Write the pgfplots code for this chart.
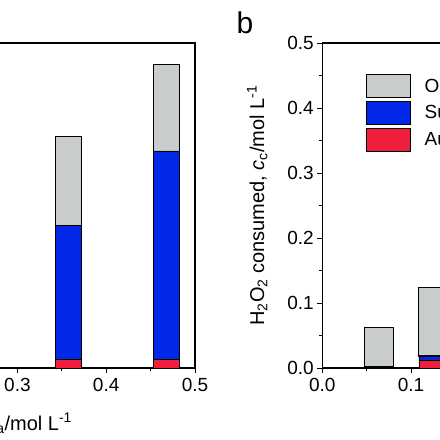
\documentclass[border=0pt]{standalone}
\usepackage{pgfplots}
\pgfplotsset{compat=1.18}
\usepackage{fontspec}
\setmainfont{Liberation Sans}
\definecolor{cgray}{RGB}{200,204,202}
\definecolor{cblue}{RGB}{0,40,230}
\definecolor{cred}{RGB}{240,30,60}
\pgfplotsset{
  panel/.style={
    scale only axis, width=444pt, height=325pt, anchor=south west,
    xmin=0, xmax=0.5, ymin=0, ymax=0.5,
    xtick={0,0.1,0.2,0.3,0.4,0.5}, ytick={0,0.1,0.2,0.3,0.4,0.5},
    minor x tick num=1, minor y tick num=1,
    tick align=outside, xtick pos=left, ytick pos=left,
    major tick length=5pt, minor tick length=3pt,
    every tick/.style={black, line width=0.9pt},
    axis line style={line width=1.2pt},
    /pgf/number format/assume math mode=true,
    /pgf/number format/fixed, /pgf/number format/fixed zerofill, /pgf/number format/precision=1,
    ticklabel style={font=\fontsize{19}{21}\selectfont},
    xticklabel style={yshift=-2pt},
    label style={font=\fontsize{20}{22}\selectfont},
    ybar stacked,
  },
  legbox/.style={legend image code/.code={\draw[#1, draw=black, line width=0.8pt] (0pt,-11.5pt) rectangle (44pt,11.5pt);}},
}
\begin{document}
\begin{tikzpicture}
\useasboundingbox (0pt,0pt) rectangle (440pt,440pt);
\clip (0pt,0pt) rectangle (440pt,440pt);
% panel a (right part visible)
\begin{axis}[panel, at={(-249pt,72pt)}, bar width=0.0293,
  xlabel={H\textsubscript{2}O\textsubscript{2} added, \textit{c}\textsubscript{a}/mol L\textsuperscript{-1}},
  xlabel style={at={(rel axis cs:0.731,0)}, anchor=base east, yshift=-62pt}]
\addplot[fill=cred, draw=black] coordinates {(0.357,0.0134) (0.468,0.0134)};
\addplot[fill=cblue, draw=black] coordinates {(0.357,0.2061) (0.468,0.3206)};
\addplot[fill=cgray, draw=black] coordinates {(0.357,0.1369) (0.468,0.1330)};
\end{axis}
% panel b
\begin{axis}[panel, at={(322.3pt,72pt)}, bar width=0.0327,
  ylabel={H\textsubscript{2}O\textsubscript{2} consumed, \textit{c}\textsubscript{c}/mol L\textsuperscript{-1}},
  ylabel style={yshift=13pt},
  reverse legend,
  legend cell align=left,
  legend style={draw=none, fill=none, at={(rel axis cs:0.0977,0.905)}, anchor=north west,
    inner sep=0pt, row sep=3pt, font=\fontsize{19}{21}\selectfont,
    nodes={inner sep=2pt}, /tikz/every odd column/.style={column sep=12pt}}]
\addplot[fill=cred, draw=black, legbox] coordinates {(0.0636,0.0015) (0.125,0.0123)};
\addplot[fill=cblue, draw=black, legbox] coordinates {(0.0636,0.0015) (0.125,0.0062)};
\addplot[fill=cgray, draw=black, line width=1.1pt, legbox] coordinates {(0.0636,0.0596) (0.125,0.1055)};
\legend{Autodecomposition, Substrate oxidation, O\textsubscript{2} evolution}
\end{axis}
\node[font=\fontsize{30}{32}\selectfont] at (245pt,417pt) {b};
\end{tikzpicture}
\end{document}
